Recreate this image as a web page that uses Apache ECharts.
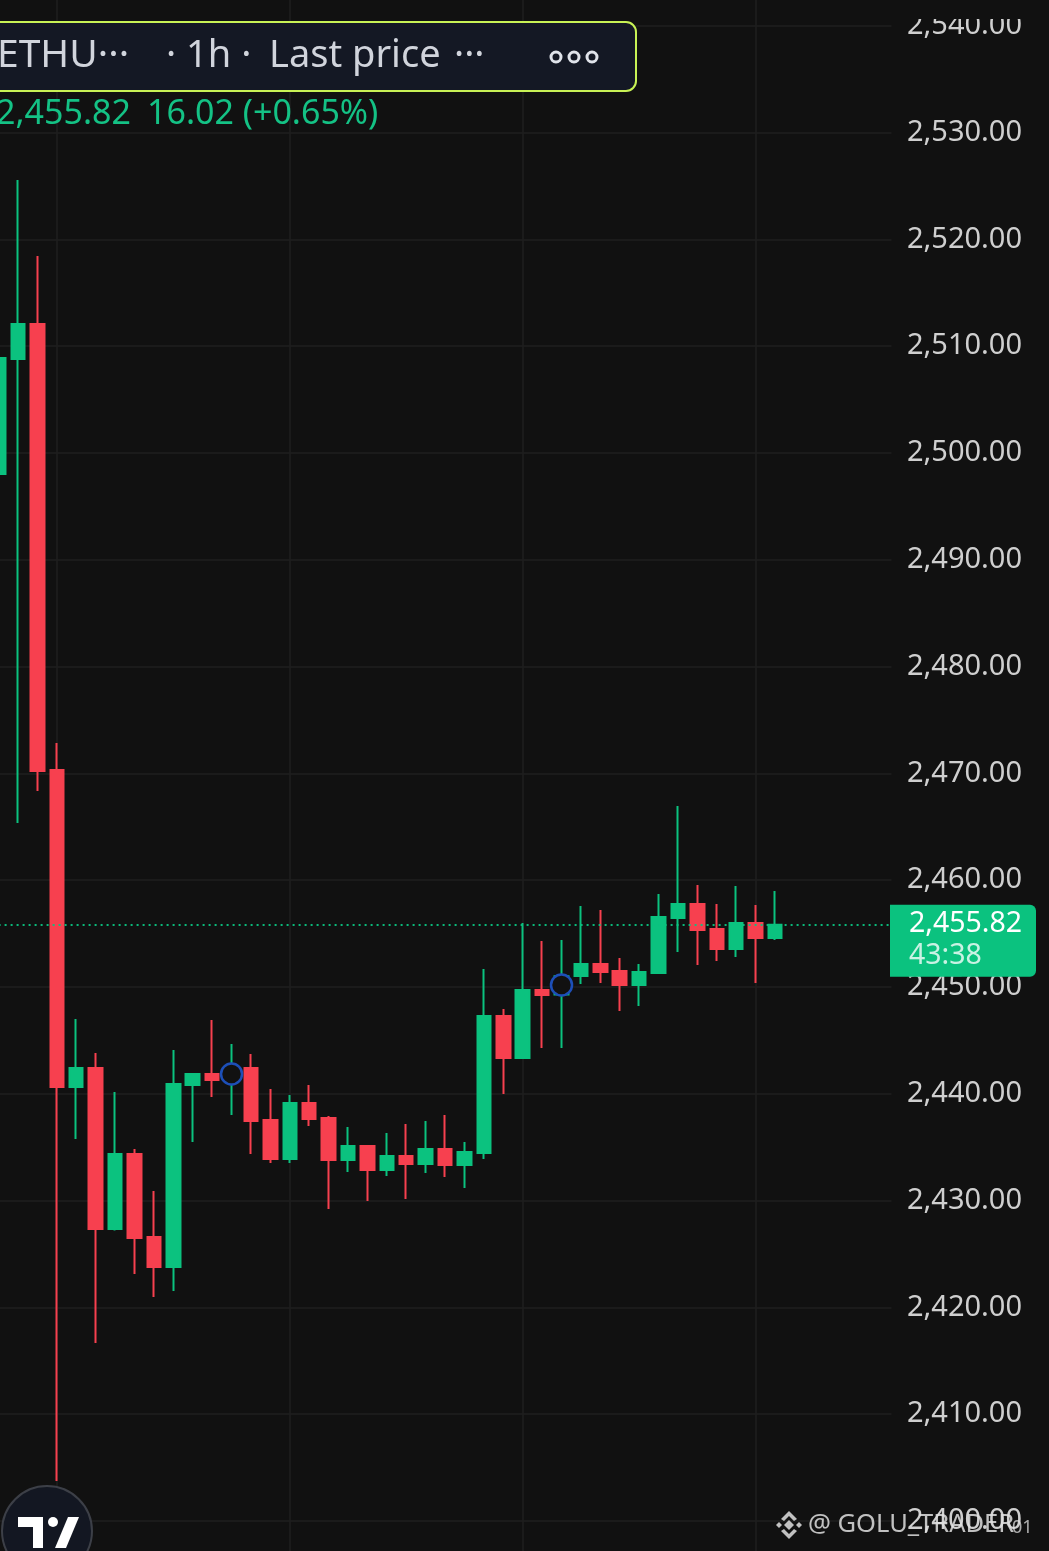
<!DOCTYPE html>
<html>
<head>
<meta charset="utf-8">
<script src="https://cdn.jsdelivr.net/npm/echarts@6/dist/echarts.min.js"></script>
<style>
html,body{margin:0;padding:0;background:#111111;overflow:hidden;}
#chart{width:1049px;height:1551px;}
</style>
</head>
<body>
<div id="chart"></div>
<script>
// ---- data (ETHUSDT 1h candles) ----
const categories = Array.from({length: 47}, (_, i) => 'H' + i); // 41 candles + empty right margin
const opens  = [2498.03,2508.80,2512.08,2470.32,2440.64,2442.42,2427.34,2434.36,2426.59,2423.78,2440.82,2441.85,2441.29,2442.42,2437.55,2433.90,2439.14,2437.73,2433.80,2435.11,2432.87,2434.18,2433.43,2434.83,2433.33,2434.46,2447.28,2443.35,2449.72,2449.30,2451.03,2452.15,2451.50,2450.19,2451.31,2456.46,2457.77,2455.43,2453.56,2455.99,2454.59];
const closes = [2508.90,2512.08,2470.22,2440.64,2442.42,2427.34,2434.36,2426.50,2423.78,2440.92,2441.85,2441.29,2442.42,2437.45,2433.90,2439.14,2437.64,2433.80,2435.11,2432.87,2434.18,2433.43,2434.83,2433.33,2434.55,2447.28,2443.35,2449.72,2449.25,2451.00,2452.15,2451.40,2450.19,2451.40,2456.55,2457.77,2455.34,2453.56,2455.99,2454.59,2455.82];
const lows   = [2497.50,2465.36,2468.35,2403.75,2435.77,2416.67,2427.20,2423.13,2420.97,2421.54,2435.49,2439.70,2438.01,2434.36,2433.52,2433.52,2436.99,2429.21,2432.68,2429.96,2432.30,2430.15,2432.58,2432.21,2431.18,2433.90,2439.98,2443.30,2444.29,2444.29,2450.28,2450.37,2447.75,2448.22,2451.30,2453.28,2452.06,2452.43,2452.81,2450.37,2454.40];
const highs  = [2509.50,2525.56,2518.45,2472.85,2447.00,2443.82,2440.17,2434.83,2430.90,2444.10,2441.95,2446.91,2444.66,2443.73,2440.45,2439.89,2440.82,2437.92,2436.89,2435.11,2436.33,2437.17,2437.45,2438.01,2435.49,2451.69,2447.94,2455.99,2454.31,2454.40,2457.58,2457.21,2452.72,2452.15,2458.71,2466.95,2459.55,2457.77,2459.46,2457.68,2458.99];
const markedCandles = [12, 29];
const markedPrices  = [2441.85, 2450.19];
const yMin = 2390, yMax = 2550, yStep = 10;
const lastPrice = 2455.82;
const priceChange = '16.02';
const priceChangePct = '(+0.65%)';
const countdown = '43:38';
const symbolText = 'ETHU···';
const intervalText = '· 1h ·';
const modeText = 'Last price';
const watermark = '@ GOLU_TRADER';
const watermarkTail = '01';

// ---- styles ----
const BG = '#111111';
const UP = '#0bc27f';
const DOWN = '#f7404f';
const GRIDC = '#1f1f1f';
const FONT = '"Noto Sans", sans-serif';
const fmt = v => Number(v).toLocaleString('en-US', {minimumFractionDigits: 2, maximumFractionDigits: 2});

const candleData = opens.map((o, i) => [o, closes[i], lows[i], highs[i]]);

const chart = echarts.init(document.getElementById('chart'), null, {renderer: 'canvas'});
const option = {
  backgroundColor: BG,
  animation: false,
  grid: {left: -1.4, top: -81, width: 892.9, height: 1708.8, containLabel: false, outerBoundsMode: 'none'},
  xAxis: {
    type: 'category', data: categories, boundaryGap: false,
    axisLine: {show: false}, axisTick: {show: false}, axisLabel: {show: false},
    splitLine: {show: true, interval: (i) => i % 12 === 3, lineStyle: {color: GRIDC, width: 1.5}}
  },
  yAxis: {
    type: 'value', position: 'right', min: yMin, max: yMax, interval: yStep,
    axisLine: {show: false}, axisTick: {show: false},
    splitLine: {show: true, lineStyle: {color: GRIDC, width: 1.5}},
    axisLabel: {show: true, align: 'right', margin: 130.5, color: '#cfcfcf', fontSize: 29, fontFamily: FONT, formatter: fmt, hideOverlap: false}
  },
  series: [{
    type: 'candlestick',
    data: candleData,
    barWidth: 14,
    clip: false,
    itemStyle: {color: UP, color0: DOWN, borderColor: UP, borderColor0: DOWN, borderWidth: 2},
    markLine: {
      silent: true, symbol: ['none', 'none'], animation: false,
      label: {show: false},
      lineStyle: {color: UP, type: [2, 4], width: 1.8, opacity: 0.95},
      data: [{yAxis: lastPrice}]
    },
    markPoint: {
      silent: true, animation: false, z: 10,
      symbol: 'circle', symbolSize: 21,
      itemStyle: {color: BG, borderColor: '#1d4fb8', borderWidth: 2.5},
      label: {show: false},
      data: markedCandles.map((c, k) => ({coord: [categories[c], markedPrices[k]]}))
    }
  }]
};
chart.setOption(option);

const py = chart.convertToPixel({yAxisIndex: 0}, lastPrice);
const txt = (x, y, text, size, fill, extra) => Object.assign({
  type: 'text', x: x, y: y, z: 120, silent: true,
  style: {text: text, fill: fill, fontSize: size, fontFamily: FONT, align: 'left', verticalAlign: 'middle'}
}, extra || {});

const graphics = [
  // cover at the top of the price scale
  {type: 'rect', z: 90, silent: true, shape: {x: 893, y: 0, width: 160, height: 19}, style: {fill: BG}},
  // header box
  {type: 'rect', z: 110, silent: true, shape: {x: -20, y: 22, width: 656, height: 69, r: 10}, style: {fill: '#141824', stroke: '#c8f255', lineWidth: 2}},
  txt(-3, 56, symbolText, 39, '#d1d4dc'),
  txt(166, 56, intervalText, 38, '#d1d4dc'),
  txt(269, 56, modeText, 38, '#d1d4dc'),
  txt(454, 56, '···', 38, '#d1d4dc'),
  {type: 'circle', z: 120, silent: true, shape: {cx: 556, cy: 57, r: 5}, style: {fill: 'none', stroke: '#e0e3ea', lineWidth: 3}},
  {type: 'circle', z: 120, silent: true, shape: {cx: 574, cy: 57, r: 5}, style: {fill: 'none', stroke: '#e0e3ea', lineWidth: 3}},
  {type: 'circle', z: 120, silent: true, shape: {cx: 592, cy: 57, r: 5}, style: {fill: 'none', stroke: '#e0e3ea', lineWidth: 3}},
  txt(-4, 114, fmt(lastPrice), 34, '#14c285'),
  txt(147, 114, priceChange + ' ' + priceChangePct, 34, '#14c285'),
  // last price tag
  {type: 'rect', z: 110, silent: true, shape: {x: 890, y: py - 20, width: 146, height: 72, r: [0, 6, 6, 0]}, style: {fill: UP}},
  txt(909, py - 1, fmt(lastPrice), 28.5, '#ffffff'),
  txt(909, py + 31, countdown, 28.5, 'rgba(255,255,255,0.78)'),
  // TradingView logo
  {type: 'circle', z: 110, silent: true, shape: {cx: 47, cy: 1531, r: 45}, style: {fill: '#131722', stroke: '#3c3f47', lineWidth: 2}},
  {type: 'polygon', z: 120, silent: true, shape: {points: [[18,1517],[43,1517],[43,1548],[33,1548],[33,1527],[18,1527]]}, style: {fill: '#ffffff'}},
  {type: 'circle', z: 120, silent: true, shape: {cx: 53, cy: 1522, r: 5}, style: {fill: '#ffffff'}},
  {type: 'polygon', z: 120, silent: true, shape: {points: [[55,1548],[66,1548],[79,1517],[68,1517]]}, style: {fill: '#ffffff'}},
  // watermark
  {type: 'polygon', z: 120, silent: true, shape: {points: [[789,1520],[794,1525],[789,1530],[784,1525]]}, style: {fill: 'rgba(225,225,225,0.85)'}},
  {type: 'polygon', z: 120, silent: true, shape: {points: [[779,1522],[782,1525],[779,1528],[776,1525]]}, style: {fill: 'rgba(225,225,225,0.85)'}},
  {type: 'polygon', z: 120, silent: true, shape: {points: [[799,1522],[802,1525],[799,1528],[796,1525]]}, style: {fill: 'rgba(225,225,225,0.85)'}},
  {type: 'polygon', z: 120, silent: true, shape: {points: [[789,1511],[797,1519],[794,1521],[789,1516],[784,1521],[781,1519]]}, style: {fill: 'rgba(225,225,225,0.85)'}},
  {type: 'polygon', z: 120, silent: true, shape: {points: [[789,1539],[797,1531],[794,1529],[789,1534],[784,1529],[781,1531]]}, style: {fill: 'rgba(225,225,225,0.85)'}},
  txt(808, 1525, watermark, 25.5, 'rgba(225,225,225,0.85)'),
  txt(1012, 1528, watermarkTail, 18, 'rgba(225,225,225,0.75)')
];
chart.setOption({graphic: graphics});
</script>
</body>
</html>
